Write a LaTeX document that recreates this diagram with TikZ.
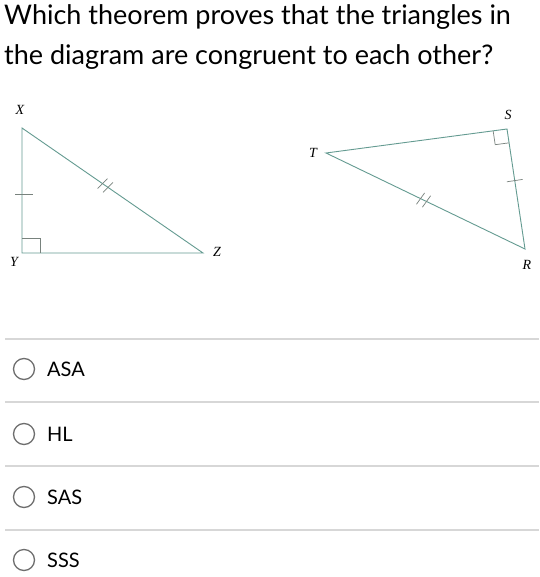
\documentclass[tikz,border=0pt]{standalone}
\usepackage{fontspec}
\setmainfont{Lato}
\newfontfamily\vlabelfont{Liberation Serif}
\usetikzlibrary{calc}
\begin{document}
\begin{tikzpicture}[x=1pt,y=-1pt,
  tri/.style={draw=triline, line width=0.9pt},
  tick/.style={draw=tickgray, line width=0.7pt},
  vlabel/.style={font=\fontsize{14}{14}\selectfont\vlabelfont\itshape, inner sep=0pt},
  sep/.style={draw=sepgray, line width=1.4pt},
  radio/.style={circle, draw=radiogray, line width=1.3pt, minimum size=21pt, inner sep=0pt},
  opt/.style={anchor=west, font=\fontsize{20}{20}\selectfont, inner sep=0pt},
  qtext/.style={anchor=north west, align=left, font=\fontsize{27}{40}\selectfont, inner sep=0pt}]
\definecolor{triline}{RGB}{100,155,145}
\definecolor{tickgray}{RGB}{120,130,125}
\definecolor{sepgray}{RGB}{215,215,215}
\definecolor{radiogray}{RGB}{110,110,110}
\useasboundingbox (0,0) rectangle (539,577);
\fill[white] (0,0) rectangle (539,577);
% question
\node[qtext] (q) at (4,4) {Which theorem proves that the triangles in\\the diagram are congruent to each other?};
% triangle XYZ
\coordinate (X) at (22,128);
\coordinate (Y) at (22,253);
\coordinate (Z) at (203,253);
\draw[tri] (X) -- (Y) -- (Z) -- cycle;
\draw[tick] (22,238) -- (40,238) -- (40,253);
\draw[tick] (15,194) -- (33,194);
\coordinate (m1) at ($(X)!0.445!(Z)$);
\coordinate (m2) at ($(X)!0.475!(Z)$);
\draw[tick] ($(m1)!7pt!80:(Z)$) -- ($(m1)!7pt!-100:(Z)$);
\draw[tick] ($(m2)!7pt!80:(Z)$) -- ($(m2)!7pt!-100:(Z)$);
\node[vlabel] (lx) at (20,110) {X};
\node[vlabel] (ly) at (14,262) {Y};
\node[vlabel] (lz) at (217,252) {Z};
% triangle TSR
\coordinate (T) at (326,153);
\coordinate (S) at (507,129);
\coordinate (R) at (525,249);
\draw[tri] (T) -- (S) -- (R) -- cycle;
\coordinate (sa) at ($(S)!14pt!(T)$);
\coordinate (sb) at ($(S)!14pt!(R)$);
\draw[tick] (sa) -- ($(sa)+(sb)-(S)$) -- (sb);
\coordinate (m3) at ($(S)!0.43!(R)$);
\draw[tick] ($(m3)!8pt!90:(R)$) -- ($(m3)!8pt!-90:(R)$);
\coordinate (m4) at ($(T)!0.475!(R)$);
\coordinate (m5) at ($(T)!0.505!(R)$);
\draw[tick] ($(m4)!7pt!80:(R)$) -- ($(m4)!7pt!-100:(R)$);
\draw[tick] ($(m5)!7pt!80:(R)$) -- ($(m5)!7pt!-100:(R)$);
\node[vlabel] (ls) at (508,115) {S};
\node[vlabel] (lt) at (313,153) {T};
\node[vlabel] (lr) at (527,265) {R};
% options
\draw[sep] (5,339) -- (539,339);
\draw[sep] (5,402) -- (539,402);
\draw[sep] (5,466) -- (539,466);
\draw[sep] (5,530) -- (539,530);
\node[radio] (r1) at (24,369) {};
\node[radio] (r2) at (24,434) {};
\node[radio] (r3) at (24,497) {};
\node[radio] (r4) at (24,560) {};
\node[opt] (o1) at (47,369) {ASA};
\node[opt] (o2) at (47,434) {HL};
\node[opt] (o3) at (47,497) {SAS};
\node[opt] (o4) at (47,560) {SSS};
\end{tikzpicture}
\end{document}
